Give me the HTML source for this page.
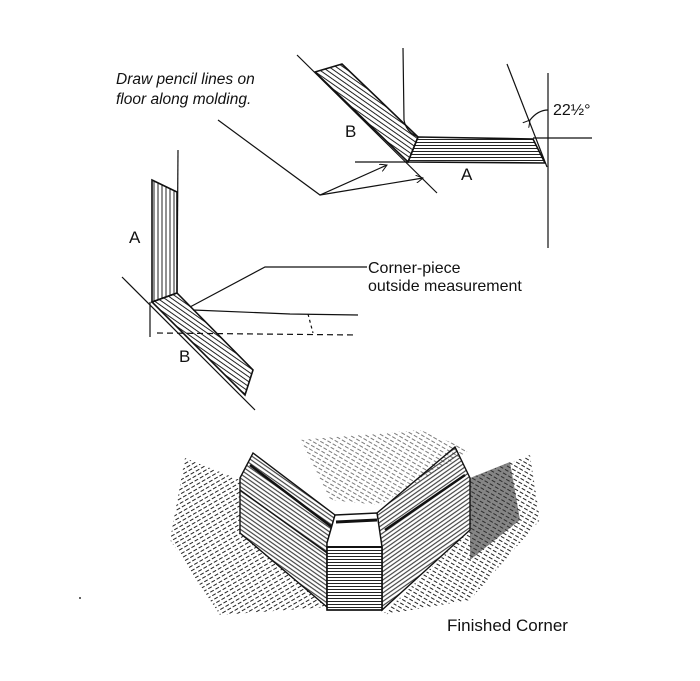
<!DOCTYPE html>
<html><head><style>
html,body{margin:0;padding:0;background:#fff;width:700px;height:681px;overflow:hidden}
svg{display:block}
text{font-family:"Liberation Sans",sans-serif;fill:#111}
</style></head><body>
<svg width="700" height="681" viewBox="0 0 700 681" xmlns="http://www.w3.org/2000/svg">
<defs>
<pattern id="hz" width="6" height="3" patternUnits="userSpaceOnUse"><line x1="0" y1="1.5" x2="6" y2="1.5" stroke="#222" stroke-width="1"/></pattern>
<pattern id="vt" width="4" height="6" patternUnits="userSpaceOnUse"><line x1="2" y1="0" x2="2" y2="6" stroke="#222" stroke-width="1"/></pattern>
<pattern id="dg" width="4" height="4" patternUnits="userSpaceOnUse" patternTransform="rotate(35)"><line x1="0" y1="2" x2="4" y2="2" stroke="#222" stroke-width="1"/></pattern>
<pattern id="dg2" width="3.5" height="3.5" patternUnits="userSpaceOnUse" patternTransform="rotate(-35)"><line x1="0" y1="1.7" x2="4" y2="1.7" stroke="#222" stroke-width="1"/></pattern>
<pattern id="dg3" width="3.5" height="3.5" patternUnits="userSpaceOnUse" patternTransform="rotate(35)"><line x1="0" y1="1.7" x2="4" y2="1.7" stroke="#222" stroke-width="1"/></pattern>
<pattern id="hatch" width="6" height="4" patternUnits="userSpaceOnUse" patternTransform="rotate(-30)"><line x1="0" y1="2" x2="4" y2="2" stroke="#222" stroke-width="1"/></pattern>
<pattern id="hatch2" width="6" height="4" patternUnits="userSpaceOnUse" patternTransform="rotate(30)"><line x1="0" y1="2" x2="4" y2="2" stroke="#222" stroke-width="1"/></pattern>
<marker id="ar" markerWidth="8" markerHeight="8" refX="7" refY="4" orient="auto" markerUnits="userSpaceOnUse"><path d="M0,0 L7,4 L0,8" fill="none" stroke="#111" stroke-width="1"/></marker>
</defs>
<g stroke="#111" stroke-width="1.2" fill="none">
<line x1="297" y1="55" x2="437" y2="193"/>
<polygon points="315,72 342,64 418,137 408,162" fill="url(#dg)" stroke-width="1.6"/>
<polygon points="418,137 533,139 545,163 408,162" fill="url(#hz)" stroke-width="1.6"/>
<path d="M403,48 L404,120 Q406,132 418,137"/>
<line x1="533" y1="138" x2="592" y2="138"/>
<line x1="355" y1="162" x2="408" y2="162"/>
<line x1="548" y1="73" x2="548" y2="248"/>
<line x1="507" y1="64" x2="547" y2="167"/>
<path d="M530,120 Q538,110 548,110" marker-start="url(#ar)"/>
<polyline points="218,120 320,195 387,165" marker-end="url(#ar)"/>
<line x1="320" y1="195" x2="423" y2="178" marker-end="url(#ar)"/>
<line x1="178" y1="150" x2="177" y2="293"/>
<polygon points="152,180 177,192 177,293 152,302" fill="url(#vt)" stroke-width="1.6"/>
<polygon points="152,302 177,293 253,370 245,395" fill="url(#dg)" stroke-width="1.6"/>
<line x1="122" y1="277" x2="255" y2="410"/>
<line x1="150" y1="302" x2="150" y2="337"/>
<path d="M193,310 L290,314 L358,315"/>
<line x1="157" y1="333" x2="357" y2="335" stroke-dasharray="6,4"/>
<line x1="308" y1="314" x2="313" y2="333" stroke-dasharray="3,3"/>
<polyline points="190,307 265,267 367,267"/>
</g>
<text x="116" y="84" font-size="15.5" font-style="italic">Draw pencil lines on</text>
<text x="116" y="104" font-size="15.5" font-style="italic">floor along molding.</text>
<text x="553" y="115" font-size="16">22½°</text>
<text x="345" y="137" font-size="17">B</text>
<text x="461" y="180" font-size="17">A</text>
<text x="129" y="243" font-size="17">A</text>
<text x="179" y="362" font-size="17">B</text>
<text x="368" y="273" font-size="16">Corner-piece</text>
<text x="368" y="291" font-size="16">outside measurement</text>
<g stroke="#222" stroke-width="1">
<polygon points="185,458 240,480 240,533 327,607 220,615 170,540" fill="url(#hatch)" stroke="none"/>
<polygon points="470,478 530,455 540,520 470,600 382,615 470,530" fill="url(#hatch2)" stroke="none"/>
<polygon points="470,478 510,462 520,520 470,560" fill="#333" stroke="none" opacity="0.6"/>
<polygon points="300,440 420,430 470,450 380,505 330,500" fill="url(#hatch2)" stroke="none" opacity="0.6"/>
<g stroke-width="1.4" stroke="#111">
<polygon points="240,478 253,453 335,515 327,543 327,607 240,533" fill="url(#dg3)"/>
<line x1="240" y1="490" x2="330" y2="555"/>
<line x1="250" y1="465" x2="333" y2="528" stroke-width="2.5"/>
<polygon points="377,513 455,447 470,478 470,530 382,610 382,547" fill="url(#dg2)"/>
<line x1="385" y1="530" x2="465" y2="475" stroke-width="2.5"/>
<polygon points="335,515 377,513 382,547 382,610 327,610 327,543" fill="#fff"/>
<rect x="327" y="547" width="55" height="63" fill="url(#hz)"/>
<line x1="327" y1="547" x2="382" y2="547" stroke-width="2"/>
<line x1="336" y1="522" x2="377" y2="520" stroke-width="3"/>
</g>
</g>
<circle cx="80" cy="598" r="1" fill="#333"/>
<text x="447" y="631" font-size="17">Finished Corner</text>
</svg>
</body></html>
